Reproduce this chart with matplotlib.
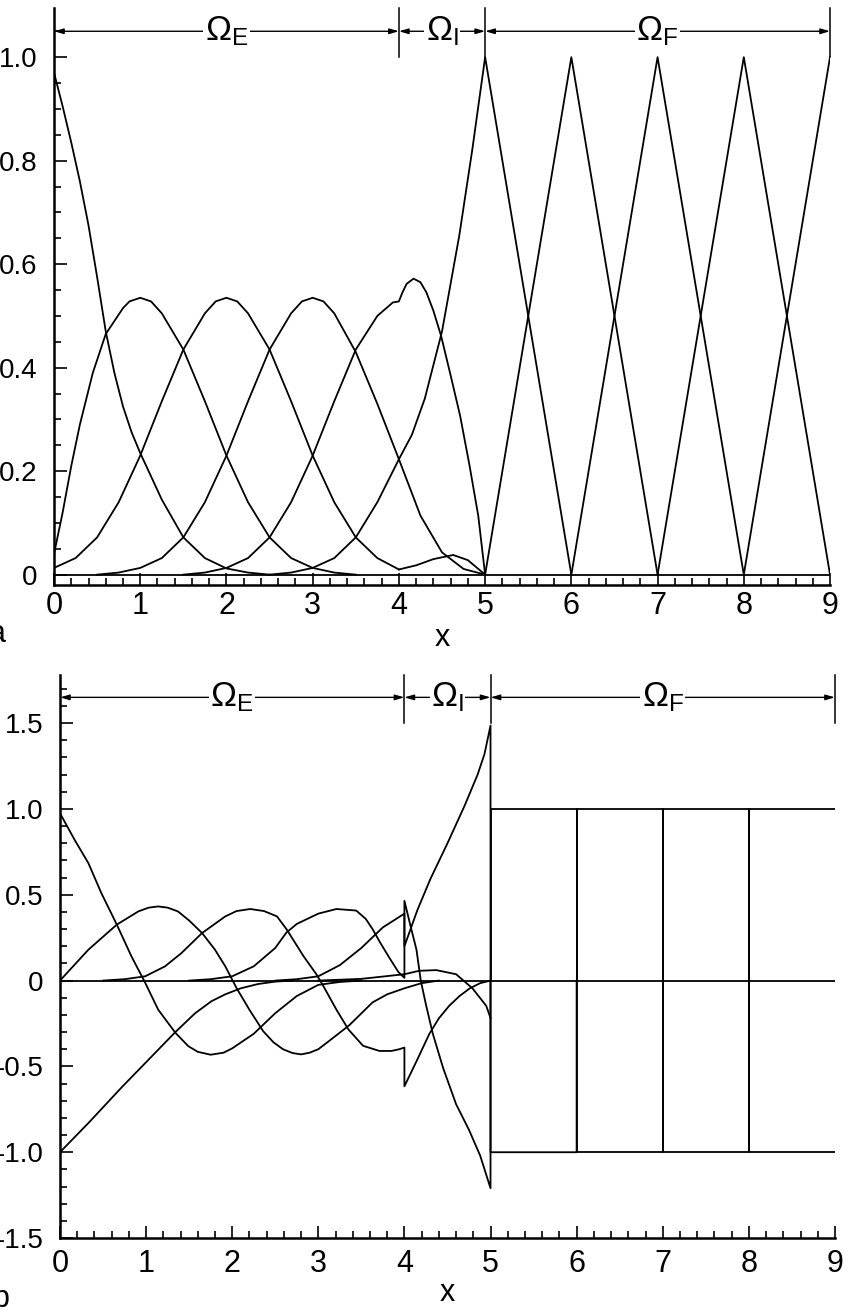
import matplotlib
matplotlib.use('Agg')
import matplotlib.pyplot as plt
from matplotlib.ticker import MultipleLocator, FixedLocator

plt.rcParams['font.family'] = ['Liberation Sans', 'DejaVu Sans']
plt.rcParams['mathtext.fontset'] = 'custom'
plt.rcParams['mathtext.rm'] = 'Liberation Sans'
plt.rcParams['mathtext.it'] = 'Liberation Sans:italic'
plt.rcParams['axes.unicode_minus'] = False

# domain split and labels
EDGES = [0, 4, 5, 9]
DOMAIN_NAMES = [r'$\Omega_{\mathrm{E}}$', r'$\Omega_{\mathrm{I}}$', r'$\Omega_{\mathrm{F}}$']

# ---- panel a: basis functions ----
T1_X = [0, 0.1, 0.2, 0.3, 0.4, 0.5, 0.6, 0.7, 0.8, 0.9, 1.0, 1.25, 1.5, 1.75, 2.0, 2.25, 2.5]
T1_Y = [0.97, 0.905, 0.835, 0.76, 0.675, 0.575, 0.47, 0.39, 0.325, 0.275, 0.235, 0.145, 0.072, 0.032, 0.012, 0.004, 0.0]

B1_X = [0, 0.1, 0.2, 0.3, 0.45, 0.6, 0.8, 0.875, 1.0, 1.125, 1.25, 1.5, 1.75, 2.0, 2.25, 2.5, 2.75, 3.0, 3.25, 3.5]
B1_Y = [0.04, 0.12, 0.21, 0.29, 0.39, 0.465, 0.515, 0.528, 0.535, 0.528, 0.505, 0.435, 0.335, 0.23, 0.14, 0.072, 0.032, 0.013, 0.004, 0.0]

B2_X = [0, 0.25, 0.5, 0.75, 1.0, 1.25, 1.5, 1.75, 1.875, 2.0, 2.125, 2.25, 2.5, 2.75, 3.0, 3.25, 3.5, 3.75, 4.0]
B2_Y = [0.013, 0.032, 0.072, 0.14, 0.23, 0.335, 0.435, 0.505, 0.528, 0.535, 0.528, 0.505, 0.435, 0.335, 0.23, 0.14, 0.072, 0.032, 0.01]

B3_X = [0.5, 0.75, 1.0, 1.25, 1.5, 1.75, 2.0, 2.25, 2.5, 2.75, 2.875, 3.0, 3.125, 3.25, 3.5, 3.75, 4.0, 4.25, 4.5, 4.75, 5.0]
B3_Y = [0.0, 0.004, 0.013, 0.032, 0.072, 0.14, 0.23, 0.335, 0.435, 0.505, 0.528, 0.535, 0.528, 0.505, 0.43, 0.33, 0.223, 0.114, 0.043, 0.011, 0.0]

B4_X = [1.5, 1.75, 2.0, 2.25, 2.5, 2.75, 3.0, 3.25, 3.5, 3.75, 3.93, 4.0, 4.04, 4.09, 4.17, 4.25, 4.32, 4.4, 4.49, 4.6, 4.71, 4.82, 4.92, 5.0]
B4_Y = [0.0, 0.004, 0.013, 0.032, 0.072, 0.14, 0.23, 0.335, 0.435, 0.5, 0.526, 0.528, 0.545, 0.562, 0.572, 0.565, 0.545, 0.51, 0.461, 0.385, 0.307, 0.21, 0.114, 0.0]

B5_X = [2.5, 2.75, 3.0, 3.25, 3.5, 3.75, 4.0, 4.15, 4.3, 4.5, 4.7, 4.85, 5.0, 6.0]
B5_Y = [0.0, 0.004, 0.013, 0.032, 0.072, 0.14, 0.223, 0.27, 0.34, 0.47, 0.655, 0.82, 1.0, 0.0]

SMALL_X = [4.0, 4.2, 4.4, 4.63, 4.8, 4.9, 5.0]
SMALL_Y = [0.01, 0.018, 0.03, 0.038, 0.028, 0.014, 0.0]

HAT6_X, HAT6_Y = [5, 6, 7], [0, 1, 0]
HAT7_X, HAT7_Y = [6, 7, 8], [0, 1, 0]
HAT8_X, HAT8_Y = [7, 8, 9], [0, 1, 0]
HAT9_X, HAT9_Y = [8, 9], [0, 1]
ZERO_X, ZERO_Y = [0, 9], [0, 0]

# ---- panel b: derivatives ----
DT1_X = [0, 0.33, 0.72, 1.03, 1.34, 1.57, 1.76, 1.92, 2.1, 2.3, 2.5, 2.7]
DT1_Y = [-1.0, -0.83, -0.62, -0.46, -0.30, -0.19, -0.12, -0.08, -0.045, -0.02, -0.006, 0.0]

DB1_X = [0, 0.17, 0.33, 0.48, 0.66, 0.83, 0.99, 1.14, 1.34, 1.49, 1.6, 1.75, 1.9, 2.0, 2.25, 2.5, 2.75, 3.0, 3.25, 3.5]
DB1_Y = [0.975, 0.82, 0.684, 0.51, 0.326, 0.141, -0.013, -0.169, -0.304, -0.382, -0.415, -0.432, -0.42, -0.395, -0.31, -0.19, -0.09, -0.025, -0.008, 0.0]

DB2_X = [0, 0.33, 0.66, 0.91, 1.03, 1.14, 1.25, 1.37, 1.5, 1.65, 1.8, 1.92, 2.05, 2.2, 2.36, 2.48, 2.59, 2.7, 2.8,
         2.9, 3.0, 3.13, 3.36, 3.63, 3.8, 4.0, 4.2, 4.4]
DB2_Y = [0.0, 0.18, 0.326, 0.403, 0.425, 0.432, 0.425, 0.403, 0.35, 0.277, 0.18, 0.083, -0.043, -0.17, -0.295, -0.36,
         -0.40, -0.422, -0.43, -0.42, -0.40, -0.35, -0.26, -0.127, -0.08, -0.045, -0.015, 0.0]

DB3_X = [0.5, 0.75, 0.99, 1.22, 1.41, 1.65, 1.92, 2.05, 2.21, 2.37, 2.52, 2.63, 2.83, 2.98, 3.06, 3.21, 3.35, 3.52,
         3.71, 3.85, 3.94, 4.0, 4.0, 4.15, 4.29, 4.4, 4.52, 4.64, 4.76, 4.88, 5.0]
DB3_Y = [0.0, 0.008, 0.025, 0.083, 0.16, 0.277, 0.374, 0.405, 0.417, 0.405, 0.374, 0.30, 0.141, 0.035, -0.033, -0.169,
         -0.285, -0.38, -0.41, -0.41, -0.40, -0.39, -0.616, -0.46, -0.31, -0.22, -0.147, -0.09, -0.045, -0.015, 0.0]

DB4_X = [1.5, 1.75, 2.0, 2.25, 2.5, 2.63, 2.75, 3.0, 3.21, 3.44, 3.55, 3.63, 3.72, 3.82, 3.93, 4.0, 4.0, 4.07, 4.14,
         4.19, 4.25, 4.33, 4.45, 4.6, 4.75, 4.88, 5.0, 5.0]
DB4_Y = [0.0, 0.008, 0.025, 0.083, 0.19, 0.28, 0.33, 0.39, 0.417, 0.408, 0.36, 0.30, 0.22, 0.137, 0.05, 0.016, 0.465,
         0.32, 0.18, 0.0, -0.14, -0.31, -0.51, -0.72, -0.87, -1.02, -1.21, 0.0]

DB5_X = [2.5, 2.75, 3.0, 3.25, 3.5, 3.75, 4.0, 4.0, 4.15, 4.3, 4.5, 4.7, 4.85, 4.93, 5.0, 5.0, 6.0, 6.0]
DB5_Y = [0.0, 0.008, 0.025, 0.09, 0.19, 0.31, 0.39, 0.2, 0.41, 0.59, 0.8, 1.02, 1.2, 1.32, 1.486, -1.0, -1.0, 0.0]

DSMALL_X = [3.0, 3.5, 4.0, 4.17, 4.37, 4.6, 4.79, 4.95, 5.0]
DSMALL_Y = [0.0, 0.01, 0.037, 0.057, 0.061, 0.037, -0.045, -0.147, -0.218]

DH6_X, DH6_Y = [5, 5, 6, 6, 7, 7], [0, 1, 1, -1, -1, 0]
DH7_X, DH7_Y = [6, 6, 7, 7, 8, 8], [0, 1, 1, -1, -1, 0]
DH8_X, DH8_Y = [7, 7, 8, 8, 9], [0, 1, 1, -1, -1]
DH9_X, DH9_Y = [8, 8, 9], [0, 1, 1]

TOP_CURVES = [(T1_X, T1_Y), (B1_X, B1_Y), (B2_X, B2_Y), (B3_X, B3_Y), (B4_X, B4_Y), (B5_X, B5_Y),
              (SMALL_X, SMALL_Y), (HAT6_X, HAT6_Y), (HAT7_X, HAT7_Y), (HAT8_X, HAT8_Y), (HAT9_X, HAT9_Y),
              (ZERO_X, ZERO_Y)]
BOT_CURVES = [(DT1_X, DT1_Y), (DB1_X, DB1_Y), (DB2_X, DB2_Y), (DB3_X, DB3_Y), (DB4_X, DB4_Y), (DB5_X, DB5_Y),
              (DSMALL_X, DSMALL_Y), (DH6_X, DH6_Y), (DH7_X, DH7_Y), (DH8_X, DH8_Y), (DH9_X, DH9_Y),
              (ZERO_X, ZERO_Y)]

TOP_YTICKS = [0, 0.2, 0.4, 0.6, 0.8, 1.0]
TOP_YLABELS = ['0', '0.2', '0.4', '0.6', '0.8', '1.0']
BOT_YTICKS = [-1.5, -1.0, -0.5, 0, 0.5, 1.0, 1.5]
BOT_YLABELS = ['-1.5', '-1.0', '-0.5', '0', '0.5', '1.0', '1.5']
XTICKS = list(range(10))


def style_axes(ax, yticks, ylabels, yminor, xpad, xlabelpad):
    for s in ['top', 'right']:
        ax.spines[s].set_visible(False)
    for s in ['left', 'bottom']:
        ax.spines[s].set_linewidth(1.8)
    ax.set_xlim(0, 9)
    ax.xaxis.set_major_locator(FixedLocator(XTICKS))
    ax.xaxis.set_minor_locator(MultipleLocator(0.2))
    ax.yaxis.set_major_locator(FixedLocator(yticks))
    ax.yaxis.set_minor_locator(MultipleLocator(yminor))
    ax.set_yticklabels(ylabels)
    ax.tick_params(which='both', direction='in', top=False, right=False, width=1.2)
    ax.tick_params(which='major', length=9)
    ax.tick_params(axis='y', which='major', pad=12, labelsize=20)
    ax.tick_params(axis='x', which='major', pad=xpad, labelsize=22)
    ax.tick_params(which='minor', length=5)
    ax.set_xlabel('x', fontsize=22, labelpad=xlabelpad)


def domains(ax, y_line, y_lo, y_hi):
    for a, b, name in zip(EDGES[:-1], EDGES[1:], DOMAIN_NAMES):
        ax.annotate('', xy=(a, y_line), xytext=(b, y_line), annotation_clip=False,
                    arrowprops=dict(arrowstyle='<|-|>,head_length=0.55,head_width=0.16',
                                    mutation_scale=10, lw=1.0, color='k', shrinkA=0, shrinkB=0))
        ax.text((a + b) / 2, y_line, name, ha='center', va='center', fontsize=25, zorder=5,
                bbox=dict(fc='white', ec='none', pad=1.0), clip_on=False)
    for e in EDGES[1:]:
        ax.plot([e, e], [y_lo, y_hi], color='k', lw=1.1, clip_on=False)


fig = plt.figure(figsize=(8.52, 13.09), dpi=100)
ax1 = fig.add_axes([0.0634, 0.5531, 0.9108, 0.4408])
ax2 = fig.add_axes([0.0704, 0.0542, 0.9096, 0.4301])

for xs, ys in TOP_CURVES:
    ax1.plot(xs, ys, color='k', lw=1.3)
style_axes(ax1, TOP_YTICKS, TOP_YLABELS, 0.05, 4, 2)
ax1.set_ylim(-0.02, 1.095)
domains(ax1, 1.05, 1.0, 1.095)

for xs, ys in BOT_CURVES:
    ax2.plot(xs, ys, color='k', lw=1.3)
style_axes(ax2, BOT_YTICKS, BOT_YLABELS, 0.1, 8, -1)
ax2.set_ylim(-1.5, 1.78)
domains(ax2, 1.65, 1.5, 1.78)

fig.text(0.007, 0.516, 'a', fontsize=22, ha='right', va='center')
fig.text(0.011, 0.008, 'b', fontsize=22, ha='right', va='center')

fig.savefig('out.png', dpi=100)
